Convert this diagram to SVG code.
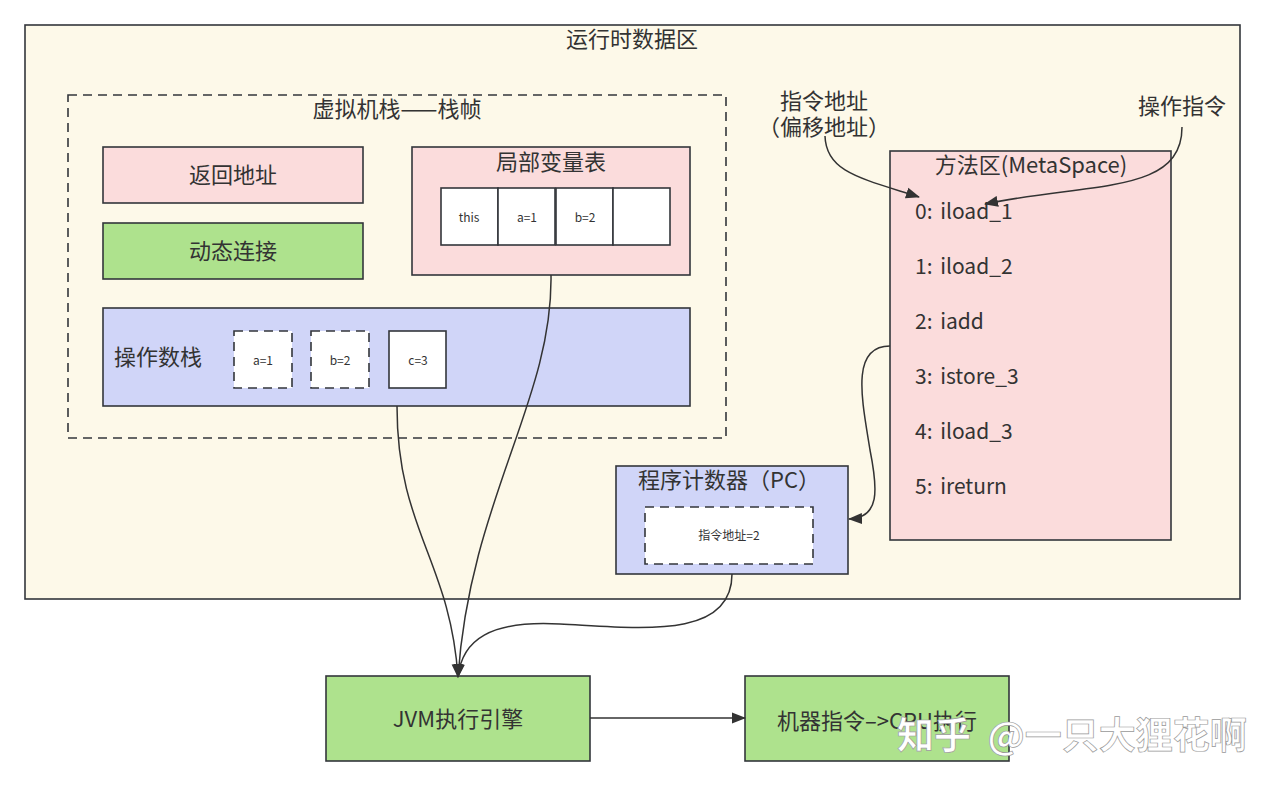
<svg xmlns="http://www.w3.org/2000/svg" width="1282" height="786" viewBox="0 0 1282 786">
<style>
text{font-family:"Noto Sans CJK SC","Noto Sans","Liberation Sans",sans-serif;fill:#333;text-anchor:middle}
.n{stroke:#33363b;stroke-width:1.6}
.d{stroke-dasharray:9 6}
.y{fill:#fdf9e9}.p{fill:#fbdcdc}.g{fill:#aee28d}.b{fill:#d0d5f8}.w{fill:#fff}
.t{font-size:22px}.s{font-size:12px}
.l{text-anchor:start;font-size:21px;word-spacing:3px}
.c{fill:none;stroke:#333;stroke-width:1.5}
.wm{font-size:37px;font-weight:700;fill:#fff;stroke:#999;stroke-width:.7;text-anchor:start;word-spacing:8px}
</style>
<defs><marker id="a" markerWidth="15" markerHeight="12" refX="13" refY="6" orient="auto" markerUnits="userSpaceOnUse"><path d="M0 .5L14 6L0 11.500z" fill="#333"/></marker></defs>
<rect width="1282" height="786" fill="#fff"/>
<g id="runtime"><rect class="n y" x="25" y="25" width="1215" height="574"/><text class="t" x="632" y="47">运行时数据区</text></g>
<g id="stack"><rect class="n d" fill="none" x="68" y="95" width="658" height="343"/><text class="t" x="397" y="117">虚拟机栈——栈帧</text></g>
<g id="ret"><rect class="n p" x="103" y="147" width="260" height="56"/><text class="t" x="233" y="183">返回地址</text></g>
<g id="dyn"><rect class="n g" x="103" y="223" width="260" height="56"/><text class="t" x="233" y="259">动态连接</text></g>
<g id="locals"><rect class="n p" x="412" y="147" width="278" height="128"/><text class="t" x="551" y="170">局部变量表</text>
<rect class="n w" x="441" y="188" width="57" height="57"/><text class="s" x="469" y="222">this</text>
<rect class="n w" x="498" y="188" width="57" height="57"/><text class="s" x="527" y="222">a=1</text>
<rect class="n w" x="556" y="188" width="57" height="57"/><text class="s" x="585" y="222">b=2</text>
<rect class="n w" x="613" y="188" width="57" height="57"/></g>
<g id="opstack"><rect class="n b" x="103" y="308" width="587" height="98"/><text class="t" x="158" y="365">操作数栈</text>
<rect class="n w d" x="234" y="331" width="58" height="57"/><text class="s" x="263" y="365">a=1</text>
<rect class="n w d" x="311" y="331" width="58" height="57"/><text class="s" x="340" y="365">b=2</text>
<rect class="n w" x="389" y="331" width="57" height="57"/><text class="s" x="418" y="365">c=3</text></g>
<g id="method"><rect class="n p" x="890" y="151" width="281" height="389"/><text class="t" x="1031" y="173">方法区(MetaSpace)</text>
<text class="l" x="915" y="219">0: iload_1</text><text class="l" x="915" y="274">1: iload_2</text><text class="l" x="915" y="329">2: iadd</text><text class="l" x="915" y="384">3: istore_3</text><text class="l" x="915" y="439">4: iload_3</text><text class="l" x="915" y="494">5: ireturn</text></g>
<g id="pc"><rect class="n b" x="616" y="466" width="232" height="108"/><text class="t" x="729" y="488">程序计数器（PC）</text>
<rect class="n w d" x="645" y="507" width="168" height="57"/><text class="s" x="729" y="540">指令地址=2</text></g>
<g id="labels"><text class="t" x="824" y="109">指令地址</text><text class="t" x="824" y="135">（偏移地址）</text><text class="t" x="1182" y="114">操作指令</text></g>
<g id="jvm"><rect class="n g" x="326" y="676" width="264" height="85"/><text class="t" x="458" y="727">JVM执行引擎</text></g>
<g id="cpu"><rect class="n g" x="745" y="676" width="264" height="85"/><text class="t" x="877" y="729">机器指令–&gt;CPU执行</text></g>
<g id="connectors">
<path class="c" marker-end="url(#a)" d="M825 136C826 172 860 178 919 197"/>
<path class="c" marker-end="url(#a)" d="M1182 127C1182 195 1090 182 985 204"/>
<path class="c" marker-end="url(#a)" d="M890 346C850 346 862 400 870 450C878 490 880 518 849 519"/>
<path class="c" marker-end="url(#a)" d="M551 275C553 400 470 500 458 677"/>
<path class="c" marker-end="url(#a)" d="M397 406C397 530 450 560 458 677"/>
<path class="c" marker-end="url(#a)" d="M732 574C732 640 640 628 560 624C490 620 462 640 458 677"/>
<path class="c" marker-end="url(#a)" d="M590 718H745"/>
</g>
<text class="wm" x="897" y="749">知乎 @一只大狸花啊</text>
</svg>
